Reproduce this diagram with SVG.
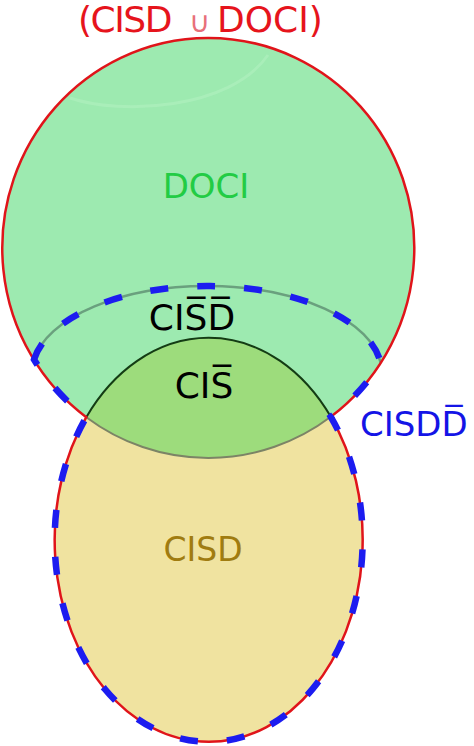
<svg xmlns="http://www.w3.org/2000/svg" width="474" height="746" viewBox="0 0 474 746">
  <style>
    .lbl { font-family: "DejaVu Sans", "Liberation Sans", sans-serif; }
    .redline { fill: none; stroke: #e0141a; stroke-width: 2.5; }
    .bluedash { fill: none; stroke: #1c1cf0; stroke-width: 6.5; stroke-dasharray: 18 29; }
  </style>
  <rect width="474" height="746" fill="#ffffff"/>
  <g id="node-cisd">
    <ellipse cx="209" cy="540" rx="154" ry="202" fill="#f0e3a0"/>
  </g>
  <g id="node-doci">
    <ellipse cx="208.5" cy="248" rx="206" ry="210" fill="#9deab0"/>
    <path d="M70 98 C120 115 230 110 268 55" fill="none" stroke="#b0f0c0" stroke-width="3" opacity="0.6"/>
  </g>
  <g id="node-cisdbard">
    <path d="M34 359.5 A175 87 0 0 1 380.7 363" fill="none" stroke="#6aa07e" stroke-width="2.5"/>
  </g>
  <g id="node-cis">
    <path d="M86.3 417.2 A154 202 0 0 1 330.8 416.8 A206 210 0 0 1 86.3 417.2 Z" fill="#9ddc7c"/>
    <path d="M330.8 416.8 A206 210 0 0 1 86.3 417.2" fill="none" stroke="#7c8466" stroke-width="2"/>
    <path d="M86.3 417.2 A154 202 0 0 1 330.8 416.8" fill="none" stroke="#143c14" stroke-width="2"/>
  </g>
  <g id="connectors">
    <path class="redline" d="M86.3 417.2 A206 210 0 1 1 330.8 416.8 A154 202 0 1 1 86.3 417.2 Z"/>
    <path class="bluedash" d="M34 359.5 A175 87 0 0 1 380.7 363 A206 210 0 0 1 330.8 416.8 A154 202 0 1 1 86.3 417.2 A206 210 0 0 1 34 359.5 Z"/>
  </g>
  <g id="labels">
    <text class="lbl" font-size="36" fill="#e6141c" y="32"><tspan x="78" letter-spacing="-1.5">(CISD</tspan><tspan x="189" font-size="29" fill="#e8707a">∪</tspan><tspan x="217">DOCI)</tspan></text>
    <text class="lbl" x="206" y="198" font-size="34" fill="#22cc44" text-anchor="middle">DOCI</text>
    <text class="lbl" x="192" y="330" font-size="36" fill="#000000" text-anchor="middle">CIS̅D̅</text>
    <text class="lbl" x="204" y="398" font-size="36" fill="#000000" text-anchor="middle">CIS̅</text>
    <text class="lbl" x="360" y="436" font-size="34" fill="#1414e6">CISDD̅</text>
    <text class="lbl" x="203" y="561" font-size="33" fill="#a07c10" text-anchor="middle">CISD</text>
  </g>
</svg>
